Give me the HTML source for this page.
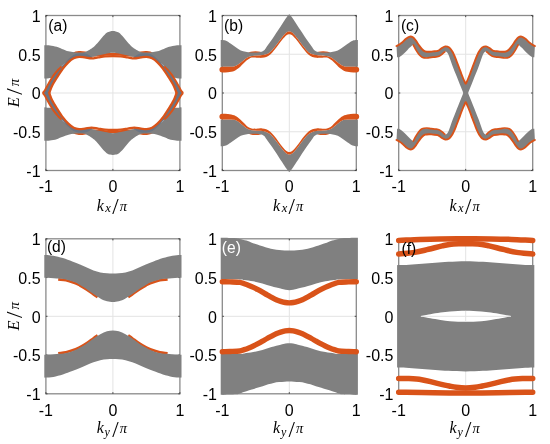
<!DOCTYPE html>
<html><head><meta charset="utf-8"><style>
html,body{margin:0;padding:0;background:#fff;}
svg{display:block;}
.tk{font-family:"Liberation Sans",Arial,sans-serif;font-size:16px;fill:#000;}
.pl{font-family:"Liberation Sans",Arial,sans-serif;font-size:15.6px;}
.mi{font-family:"Liberation Serif","Times New Roman",serif;font-style:italic;fill:#000;}
.mr{font-family:"Liberation Serif","Times New Roman",serif;fill:#000;}
</style></head><body>
<svg width="550" height="444" viewBox="0 0 550 444">
<rect width="550" height="444" fill="#fff"/>
<path d="M112.9 15.5 V170.5 M45.9 54.25 H179.9 M45.9 93 H179.9 M45.9 131.75 H179.9" stroke="#e3e3e3" stroke-width="1" fill="none"/>
<rect x="45.9" y="15.5" width="134" height="155" fill="none" stroke="#8a8a8a" stroke-width="1.3"/>
<path d="M45.9 15.5 h1.6 M179.9 15.5 h-1.6 M45.9 54.25 h1.6 M179.9 54.25 h-1.6 M45.9 93 h1.6 M179.9 93 h-1.6 M45.9 131.75 h1.6 M179.9 131.75 h-1.6 M45.9 170.5 h1.6 M179.9 170.5 h-1.6 M45.9 170.5 v-1.6 M45.9 15.5 v1.6 M112.9 170.5 v-1.6 M112.9 15.5 v1.6 M179.9 170.5 v-1.6 M179.9 15.5 v1.6" stroke="#444" stroke-width="1" fill="none"/>
<path d="M289.3 15.5 V170.5 M222.3 54.25 H356.3 M222.3 93 H356.3 M222.3 131.75 H356.3" stroke="#e3e3e3" stroke-width="1" fill="none"/>
<rect x="222.3" y="15.5" width="134" height="155" fill="none" stroke="#8a8a8a" stroke-width="1.3"/>
<path d="M222.3 15.5 h1.6 M356.3 15.5 h-1.6 M222.3 54.25 h1.6 M356.3 54.25 h-1.6 M222.3 93 h1.6 M356.3 93 h-1.6 M222.3 131.75 h1.6 M356.3 131.75 h-1.6 M222.3 170.5 h1.6 M356.3 170.5 h-1.6 M222.3 170.5 v-1.6 M222.3 15.5 v1.6 M289.3 170.5 v-1.6 M289.3 15.5 v1.6 M356.3 170.5 v-1.6 M356.3 15.5 v1.6" stroke="#444" stroke-width="1" fill="none"/>
<path d="M465.7 15.5 V170.5 M398.7 54.25 H532.7 M398.7 93 H532.7 M398.7 131.75 H532.7" stroke="#e3e3e3" stroke-width="1" fill="none"/>
<rect x="398.7" y="15.5" width="134" height="155" fill="none" stroke="#8a8a8a" stroke-width="1.3"/>
<path d="M398.7 15.5 h1.6 M532.7 15.5 h-1.6 M398.7 54.25 h1.6 M532.7 54.25 h-1.6 M398.7 93 h1.6 M532.7 93 h-1.6 M398.7 131.75 h1.6 M532.7 131.75 h-1.6 M398.7 170.5 h1.6 M532.7 170.5 h-1.6 M398.7 170.5 v-1.6 M398.7 15.5 v1.6 M465.7 170.5 v-1.6 M465.7 15.5 v1.6 M532.7 170.5 v-1.6 M532.7 15.5 v1.6" stroke="#444" stroke-width="1" fill="none"/>
<path d="M112.9 238.8 V393.8 M45.9 277.55 H179.9 M45.9 316.3 H179.9 M45.9 355.05 H179.9" stroke="#e3e3e3" stroke-width="1" fill="none"/>
<rect x="45.9" y="238.8" width="134" height="155" fill="none" stroke="#8a8a8a" stroke-width="1.3"/>
<path d="M45.9 238.8 h1.6 M179.9 238.8 h-1.6 M45.9 277.55 h1.6 M179.9 277.55 h-1.6 M45.9 316.3 h1.6 M179.9 316.3 h-1.6 M45.9 355.05 h1.6 M179.9 355.05 h-1.6 M45.9 393.8 h1.6 M179.9 393.8 h-1.6 M45.9 393.8 v-1.6 M45.9 238.8 v1.6 M112.9 393.8 v-1.6 M112.9 238.8 v1.6 M179.9 393.8 v-1.6 M179.9 238.8 v1.6" stroke="#444" stroke-width="1" fill="none"/>
<path d="M289.3 238.8 V393.8 M222.3 277.55 H356.3 M222.3 316.3 H356.3 M222.3 355.05 H356.3" stroke="#e3e3e3" stroke-width="1" fill="none"/>
<rect x="222.3" y="238.8" width="134" height="155" fill="none" stroke="#8a8a8a" stroke-width="1.3"/>
<path d="M222.3 238.8 h1.6 M356.3 238.8 h-1.6 M222.3 277.55 h1.6 M356.3 277.55 h-1.6 M222.3 316.3 h1.6 M356.3 316.3 h-1.6 M222.3 355.05 h1.6 M356.3 355.05 h-1.6 M222.3 393.8 h1.6 M356.3 393.8 h-1.6 M222.3 393.8 v-1.6 M222.3 238.8 v1.6 M289.3 393.8 v-1.6 M289.3 238.8 v1.6 M356.3 393.8 v-1.6 M356.3 238.8 v1.6" stroke="#444" stroke-width="1" fill="none"/>
<path d="M465.7 238.8 V393.8 M398.7 277.55 H532.7 M398.7 316.3 H532.7 M398.7 355.05 H532.7" stroke="#e3e3e3" stroke-width="1" fill="none"/>
<rect x="398.7" y="238.8" width="134" height="155" fill="none" stroke="#8a8a8a" stroke-width="1.3"/>
<path d="M398.7 238.8 h1.6 M532.7 238.8 h-1.6 M398.7 277.55 h1.6 M532.7 277.55 h-1.6 M398.7 316.3 h1.6 M532.7 316.3 h-1.6 M398.7 355.05 h1.6 M532.7 355.05 h-1.6 M398.7 393.8 h1.6 M532.7 393.8 h-1.6 M398.7 393.8 v-1.6 M398.7 238.8 v1.6 M465.7 393.8 v-1.6 M465.7 238.8 v1.6 M532.7 393.8 v-1.6 M532.7 238.8 v1.6" stroke="#444" stroke-width="1" fill="none"/>
<path d="M68.5 58.6 C70.17 57 71.75 54.85 73.5 53.8 C75.25 52.75 77.08 52.47 79 52.3 C80.92 52.13 82.83 52.35 85 52.8 C87.17 53.25 89.5 54.63 92 55 C94.5 55.37 97.67 55.12 100 55 C102.33 54.88 103.85 54.47 106 54.3 C108.15 54.13 110.6 54 112.9 54 C115.2 54 117.65 54.13 119.8 54.3 C121.95 54.47 123.47 54.88 125.8 55 C128.13 55.12 131.3 55.37 133.8 55 C136.3 54.63 138.63 53.25 140.8 52.8 C142.97 52.35 144.88 52.13 146.8 52.3 C148.72 52.47 150.55 52.75 152.3 53.8 C154.05 54.85 155.63 57 157.3 58.6" fill="none" stroke="#D95319" stroke-width="2.6" stroke-linecap="round" stroke-linejoin="round"/>
<path d="M44.3 45.3 C44.83 45.3 44.95 45.27 45.9 45.3 C46.85 45.33 48.2 45.25 50 45.5 C51.8 45.75 54.7 46.23 56.7 46.8 C58.7 47.37 60.03 48.15 62 48.9 C63.97 49.65 66.5 50.75 68.5 51.3 C70.5 51.85 72.25 51.98 74 52.2 C75.75 52.42 77.28 52.58 79 52.6 C80.72 52.62 82.77 52.65 84.3 52.3 C85.83 51.95 87.08 51.08 88.2 50.5 C89.32 49.92 90 49.48 91 48.8 C92 48.12 92.97 47.53 94.2 46.4 C95.43 45.27 97.02 43.57 98.4 42 C99.78 40.43 101.12 38.53 102.5 37 C103.88 35.47 105.45 33.73 106.7 32.8 C107.95 31.87 108.97 31.7 110 31.4 C111.03 31.1 111.93 31 112.9 31 C113.87 31 114.77 31.1 115.8 31.4 C116.83 31.7 117.85 31.87 119.1 32.8 C120.35 33.73 121.92 35.47 123.3 37 C124.68 38.53 126.02 40.43 127.4 42 C128.78 43.57 130.37 45.27 131.6 46.4 C132.83 47.53 133.8 48.12 134.8 48.8 C135.8 49.48 136.48 49.92 137.6 50.5 C138.72 51.08 139.97 51.95 141.5 52.3 C143.03 52.65 145.08 52.62 146.8 52.6 C148.52 52.58 150.05 52.42 151.8 52.2 C153.55 51.98 155.3 51.85 157.3 51.3 C159.3 50.75 161.83 49.65 163.8 48.9 C165.77 48.15 167.1 47.37 169.1 46.8 C171.1 46.23 174 45.75 175.8 45.5 C177.6 45.25 178.95 45.33 179.9 45.3 C180.85 45.27 180.97 45.3 181.5 45.3 L181.5 78.6 C180.97 78.6 180.68 78.67 179.9 78.6 C179.12 78.53 177.85 78.37 176.8 78.2 C175.75 78.03 174.42 78.15 173.6 77.6 C172.78 77.05 172.93 76.25 171.9 74.9 C170.87 73.55 169.05 71.3 167.4 69.5 C165.75 67.7 163.65 65.48 162 64.1 C160.35 62.72 159.15 62.35 157.5 61.2 C155.85 60.05 153.9 58.1 152.1 57.2 C150.3 56.3 148.57 55.97 146.7 55.8 C144.83 55.63 142.97 56 140.9 56.2 C138.83 56.4 136.48 57.13 134.3 57 C132.12 56.87 130.05 55.92 127.8 55.4 C125.55 54.88 123.28 54.33 120.8 53.9 C118.32 53.47 115.53 52.8 112.9 52.8 C110.27 52.8 107.48 53.47 105 53.9 C102.52 54.33 100.25 54.88 98 55.4 C95.75 55.92 93.68 56.87 91.5 57 C89.32 57.13 86.97 56.4 84.9 56.2 C82.83 56 80.97 55.63 79.1 55.8 C77.23 55.97 75.5 56.3 73.7 57.2 C71.9 58.1 69.95 60.05 68.3 61.2 C66.65 62.35 65.45 62.72 63.8 64.1 C62.15 65.48 60.05 67.7 58.4 69.5 C56.75 71.3 54.93 73.55 53.9 74.9 C52.87 76.25 53.02 77.05 52.2 77.6 C51.38 78.15 50.05 78.03 49 78.2 C47.95 78.37 46.68 78.53 45.9 78.6 C45.12 78.67 44.83 78.6 44.3 78.6 Z" fill="#808080"/>
<path d="M42.7 93 C43.43 92.07 43.78 92.02 44.9 90.2 C46.02 88.38 47.9 84.65 49.4 82.1 C50.9 79.55 52.4 77 53.9 74.9 C55.4 72.8 56.75 71.3 58.4 69.5 C60.05 67.7 62.12 65.87 63.8 64.1 C65.48 62.33 66.88 60.42 68.5 58.9 C70.12 57.38 71.75 55.93 73.5 55 C75.25 54.07 77.08 53.55 79 53.3 C80.92 53.05 83.33 53.22 85 53.5 C86.67 53.78 87.75 54.32 89 55 C90.25 55.68 91.33 56.73 92.5 57.6 L92.5 58.3 C89.97 58 87.13 57.63 84.9 57.4 C82.67 57.17 80.97 56.75 79.1 56.9 C77.23 57.05 75.5 57.4 73.7 58.3 C71.9 59.2 70.1 60.58 68.3 62.3 C66.5 64.02 64.7 66.2 62.9 68.6 C61.1 71 59.3 73.85 57.5 76.7 C55.7 79.55 53.48 82.98 52.1 85.7 C50.72 88.42 50.17 90.57 49.2 93 Z" fill="#6a7584"/>
<path d="M183.1 93 C182.37 92.07 182.02 92.02 180.9 90.2 C179.78 88.38 177.9 84.65 176.4 82.1 C174.9 79.55 173.4 77 171.9 74.9 C170.4 72.8 169.05 71.3 167.4 69.5 C165.75 67.7 163.68 65.87 162 64.1 C160.32 62.33 158.92 60.42 157.3 58.9 C155.68 57.38 154.05 55.93 152.3 55 C150.55 54.07 148.72 53.55 146.8 53.3 C144.88 53.05 142.47 53.22 140.8 53.5 C139.13 53.78 138.05 54.32 136.8 55 C135.55 55.68 134.47 56.73 133.3 57.6 L133.3 58.3 C135.83 58 138.67 57.63 140.9 57.4 C143.13 57.17 144.83 56.75 146.7 56.9 C148.57 57.05 150.3 57.4 152.1 58.3 C153.9 59.2 155.7 60.58 157.5 62.3 C159.3 64.02 161.1 66.2 162.9 68.6 C164.7 71 166.5 73.85 168.3 76.7 C170.1 79.55 172.32 82.98 173.7 85.7 C175.08 88.42 175.63 90.57 176.6 93 Z" fill="#6a7584"/>
<path d="M42.7 93 C43.43 92.07 43.78 92.02 44.9 90.2 C46.02 88.38 47.9 84.65 49.4 82.1 C50.9 79.55 52.4 77 53.9 74.9 C55.4 72.8 57.13 70.92 58.4 69.5 C59.67 68.08 60.47 67.43 61.5 66.4" fill="none" stroke="#D95319" stroke-width="1.9" stroke-linecap="butt" stroke-linejoin="round"/>
<path d="M183.1 93 C182.37 92.07 182.02 92.02 180.9 90.2 C179.78 88.38 177.9 84.65 176.4 82.1 C174.9 79.55 173.4 77 171.9 74.9 C170.4 72.8 168.67 70.92 167.4 69.5 C166.13 68.08 165.33 67.43 164.3 66.4" fill="none" stroke="#D95319" stroke-width="1.9" stroke-linecap="butt" stroke-linejoin="round"/>
<path d="M49.2 93 C50.17 90.57 50.72 88.42 52.1 85.7 C53.48 82.98 55.7 79.55 57.5 76.7 C59.3 73.85 61.1 71 62.9 68.6 C64.7 66.2 66.5 64.02 68.3 62.3 C70.1 60.58 71.9 59.2 73.7 58.3 C75.5 57.4 77.23 57.05 79.1 56.9 C80.97 56.75 82.83 57.17 84.9 57.4 C86.97 57.63 89.32 58.3 91.5 58.3 C93.68 58.3 95.75 57.72 98 57.4 C100.25 57.08 102.52 56.62 105 56.4 C107.48 56.18 110.27 56.1 112.9 56.1 C115.53 56.1 118.32 56.18 120.8 56.4 C123.28 56.62 125.55 57.08 127.8 57.4 C130.05 57.72 132.12 58.3 134.3 58.3 C136.48 58.3 138.83 57.63 140.9 57.4 C142.97 57.17 144.83 56.75 146.7 56.9 C148.57 57.05 150.3 57.4 152.1 58.3 C153.9 59.2 155.7 60.58 157.5 62.3 C159.3 64.02 161.1 66.2 162.9 68.6 C164.7 71 166.5 73.85 168.3 76.7 C170.1 79.55 172.32 82.98 173.7 85.7 C175.08 88.42 175.63 90.57 176.6 93" fill="none" stroke="#D95319" stroke-width="2.3" stroke-linecap="round" stroke-linejoin="round"/>
<path d="M68.5 127.4 C70.17 129 71.75 131.15 73.5 132.2 C75.25 133.25 77.08 133.53 79 133.7 C80.92 133.87 82.83 133.65 85 133.2 C87.17 132.75 89.5 131.37 92 131 C94.5 130.63 97.67 130.88 100 131 C102.33 131.12 103.85 131.53 106 131.7 C108.15 131.87 110.6 132 112.9 132 C115.2 132 117.65 131.87 119.8 131.7 C121.95 131.53 123.47 131.12 125.8 131 C128.13 130.88 131.3 130.63 133.8 131 C136.3 131.37 138.63 132.75 140.8 133.2 C142.97 133.65 144.88 133.87 146.8 133.7 C148.72 133.53 150.55 133.25 152.3 132.2 C154.05 131.15 155.63 129 157.3 127.4" fill="none" stroke="#D95319" stroke-width="2.6" stroke-linecap="round" stroke-linejoin="round"/>
<path d="M44.3 140.7 C44.83 140.7 44.95 140.73 45.9 140.7 C46.85 140.67 48.2 140.75 50 140.5 C51.8 140.25 54.7 139.77 56.7 139.2 C58.7 138.63 60.03 137.85 62 137.1 C63.97 136.35 66.5 135.25 68.5 134.7 C70.5 134.15 72.25 134.02 74 133.8 C75.75 133.58 77.28 133.42 79 133.4 C80.72 133.38 82.77 133.35 84.3 133.7 C85.83 134.05 87.08 134.92 88.2 135.5 C89.32 136.08 90 136.52 91 137.2 C92 137.88 92.97 138.47 94.2 139.6 C95.43 140.73 97.02 142.43 98.4 144 C99.78 145.57 101.12 147.47 102.5 149 C103.88 150.53 105.45 152.27 106.7 153.2 C107.95 154.13 108.97 154.3 110 154.6 C111.03 154.9 111.93 155 112.9 155 C113.87 155 114.77 154.9 115.8 154.6 C116.83 154.3 117.85 154.13 119.1 153.2 C120.35 152.27 121.92 150.53 123.3 149 C124.68 147.47 126.02 145.57 127.4 144 C128.78 142.43 130.37 140.73 131.6 139.6 C132.83 138.47 133.8 137.88 134.8 137.2 C135.8 136.52 136.48 136.08 137.6 135.5 C138.72 134.92 139.97 134.05 141.5 133.7 C143.03 133.35 145.08 133.38 146.8 133.4 C148.52 133.42 150.05 133.58 151.8 133.8 C153.55 134.02 155.3 134.15 157.3 134.7 C159.3 135.25 161.83 136.35 163.8 137.1 C165.77 137.85 167.1 138.63 169.1 139.2 C171.1 139.77 174 140.25 175.8 140.5 C177.6 140.75 178.95 140.67 179.9 140.7 C180.85 140.73 180.97 140.7 181.5 140.7 L181.5 107.4 C180.97 107.4 180.68 107.33 179.9 107.4 C179.12 107.47 177.85 107.63 176.8 107.8 C175.75 107.97 174.42 107.85 173.6 108.4 C172.78 108.95 172.93 109.75 171.9 111.1 C170.87 112.45 169.05 114.7 167.4 116.5 C165.75 118.3 163.65 120.52 162 121.9 C160.35 123.28 159.15 123.65 157.5 124.8 C155.85 125.95 153.9 127.9 152.1 128.8 C150.3 129.7 148.57 130.03 146.7 130.2 C144.83 130.37 142.97 130 140.9 129.8 C138.83 129.6 136.48 128.87 134.3 129 C132.12 129.13 130.05 130.08 127.8 130.6 C125.55 131.12 123.28 131.67 120.8 132.1 C118.32 132.53 115.53 133.2 112.9 133.2 C110.27 133.2 107.48 132.53 105 132.1 C102.52 131.67 100.25 131.12 98 130.6 C95.75 130.08 93.68 129.13 91.5 129 C89.32 128.87 86.97 129.6 84.9 129.8 C82.83 130 80.97 130.37 79.1 130.2 C77.23 130.03 75.5 129.7 73.7 128.8 C71.9 127.9 69.95 125.95 68.3 124.8 C66.65 123.65 65.45 123.28 63.8 121.9 C62.15 120.52 60.05 118.3 58.4 116.5 C56.75 114.7 54.93 112.45 53.9 111.1 C52.87 109.75 53.02 108.95 52.2 108.4 C51.38 107.85 50.05 107.97 49 107.8 C47.95 107.63 46.68 107.47 45.9 107.4 C45.12 107.33 44.83 107.4 44.3 107.4 Z" fill="#808080"/>
<path d="M42.7 93 C43.43 93.93 43.78 93.98 44.9 95.8 C46.02 97.62 47.9 101.35 49.4 103.9 C50.9 106.45 52.4 109 53.9 111.1 C55.4 113.2 56.75 114.7 58.4 116.5 C60.05 118.3 62.12 120.13 63.8 121.9 C65.48 123.67 66.88 125.58 68.5 127.1 C70.12 128.62 71.75 130.07 73.5 131 C75.25 131.93 77.08 132.45 79 132.7 C80.92 132.95 83.33 132.78 85 132.5 C86.67 132.22 87.75 131.68 89 131 C90.25 130.32 91.33 129.27 92.5 128.4 L92.5 127.7 C89.97 128 87.13 128.37 84.9 128.6 C82.67 128.83 80.97 129.25 79.1 129.1 C77.23 128.95 75.5 128.6 73.7 127.7 C71.9 126.8 70.1 125.42 68.3 123.7 C66.5 121.98 64.7 119.8 62.9 117.4 C61.1 115 59.3 112.15 57.5 109.3 C55.7 106.45 53.48 103.02 52.1 100.3 C50.72 97.58 50.17 95.43 49.2 93 Z" fill="#6a7584"/>
<path d="M183.1 93 C182.37 93.93 182.02 93.98 180.9 95.8 C179.78 97.62 177.9 101.35 176.4 103.9 C174.9 106.45 173.4 109 171.9 111.1 C170.4 113.2 169.05 114.7 167.4 116.5 C165.75 118.3 163.68 120.13 162 121.9 C160.32 123.67 158.92 125.58 157.3 127.1 C155.68 128.62 154.05 130.07 152.3 131 C150.55 131.93 148.72 132.45 146.8 132.7 C144.88 132.95 142.47 132.78 140.8 132.5 C139.13 132.22 138.05 131.68 136.8 131 C135.55 130.32 134.47 129.27 133.3 128.4 L133.3 127.7 C135.83 128 138.67 128.37 140.9 128.6 C143.13 128.83 144.83 129.25 146.7 129.1 C148.57 128.95 150.3 128.6 152.1 127.7 C153.9 126.8 155.7 125.42 157.5 123.7 C159.3 121.98 161.1 119.8 162.9 117.4 C164.7 115 166.5 112.15 168.3 109.3 C170.1 106.45 172.32 103.02 173.7 100.3 C175.08 97.58 175.63 95.43 176.6 93 Z" fill="#6a7584"/>
<path d="M42.7 93 C43.43 93.93 43.78 93.98 44.9 95.8 C46.02 97.62 47.9 101.35 49.4 103.9 C50.9 106.45 52.4 109 53.9 111.1 C55.4 113.2 57.13 115.08 58.4 116.5 C59.67 117.92 60.47 118.57 61.5 119.6" fill="none" stroke="#D95319" stroke-width="1.9" stroke-linecap="butt" stroke-linejoin="round"/>
<path d="M183.1 93 C182.37 93.93 182.02 93.98 180.9 95.8 C179.78 97.62 177.9 101.35 176.4 103.9 C174.9 106.45 173.4 109 171.9 111.1 C170.4 113.2 168.67 115.08 167.4 116.5 C166.13 117.92 165.33 118.57 164.3 119.6" fill="none" stroke="#D95319" stroke-width="1.9" stroke-linecap="butt" stroke-linejoin="round"/>
<path d="M49.2 93 C50.17 95.43 50.72 97.58 52.1 100.3 C53.48 103.02 55.7 106.45 57.5 109.3 C59.3 112.15 61.1 115 62.9 117.4 C64.7 119.8 66.5 121.98 68.3 123.7 C70.1 125.42 71.9 126.8 73.7 127.7 C75.5 128.6 77.23 128.95 79.1 129.1 C80.97 129.25 82.83 128.83 84.9 128.6 C86.97 128.37 89.32 127.7 91.5 127.7 C93.68 127.7 95.75 128.28 98 128.6 C100.25 128.92 102.52 129.38 105 129.6 C107.48 129.82 110.27 129.9 112.9 129.9 C115.53 129.9 118.32 129.82 120.8 129.6 C123.28 129.38 125.55 128.92 127.8 128.6 C130.05 128.28 132.12 127.7 134.3 127.7 C136.48 127.7 138.83 128.37 140.9 128.6 C142.97 128.83 144.83 129.25 146.7 129.1 C148.57 128.95 150.3 128.6 152.1 127.7 C153.9 126.8 155.7 125.42 157.5 123.7 C159.3 121.98 161.1 119.8 162.9 117.4 C164.7 115 166.5 112.15 168.3 109.3 C170.1 106.45 172.32 103.02 173.7 100.3 C175.08 97.58 175.63 95.43 176.6 93" fill="none" stroke="#D95319" stroke-width="2.3" stroke-linecap="round" stroke-linejoin="round"/>
<path d="M247 55 C248.33 54.33 249.58 53.42 251 53 C252.42 52.58 254 52.5 255.5 52.5 C257 52.5 258.75 52.58 260 53 C261.25 53.42 262 54.33 263 55" fill="none" stroke="#D95319" stroke-width="2.6" stroke-linecap="round" stroke-linejoin="round"/>
<path d="M331.6 55 C330.27 54.33 329.02 53.42 327.6 53 C326.18 52.58 324.6 52.5 323.1 52.5 C321.6 52.5 319.85 52.58 318.6 53 C317.35 53.42 316.6 54.33 315.6 55" fill="none" stroke="#D95319" stroke-width="2.6" stroke-linecap="round" stroke-linejoin="round"/>
<path d="M220.7 40 C221.23 40 221.42 39.88 222.3 40 C223.18 40.12 224.57 40.08 226 40.7 C227.43 41.32 229.27 42.6 230.9 43.7 C232.53 44.8 234.15 46.18 235.8 47.3 C237.45 48.42 239.15 49.65 240.8 50.4 C242.45 51.15 244.05 51.47 245.7 51.8 C247.35 52.13 249.15 52.28 250.7 52.4 C252.25 52.52 253.67 52.52 255 52.5 C256.33 52.48 257.5 52.47 258.7 52.3 C259.9 52.13 261.23 51.88 262.2 51.5 C263.17 51.12 263.83 50.68 264.5 50 C265.17 49.32 265.23 48.78 266.2 47.4 C267.17 46.02 268.95 43.62 270.3 41.7 C271.65 39.78 272.95 37.9 274.3 35.9 C275.65 33.9 277.08 31.7 278.4 29.7 C279.72 27.7 280.85 25.95 282.2 23.9 C283.55 21.85 285.45 18.88 286.5 17.4 C287.55 15.92 288.03 15.53 288.5 15 C288.97 14.47 289.03 14.2 289.3 14.2 C289.57 14.2 289.63 14.47 290.1 15 C290.57 15.53 291.05 15.92 292.1 17.4 C293.15 18.88 295.05 21.85 296.4 23.9 C297.75 25.95 298.88 27.7 300.2 29.7 C301.52 31.7 302.95 33.9 304.3 35.9 C305.65 37.9 306.95 39.78 308.3 41.7 C309.65 43.62 311.43 46.02 312.4 47.4 C313.37 48.78 313.43 49.32 314.1 50 C314.77 50.68 315.43 51.12 316.4 51.5 C317.37 51.88 318.7 52.13 319.9 52.3 C321.1 52.47 322.27 52.48 323.6 52.5 C324.93 52.52 326.35 52.52 327.9 52.4 C329.45 52.28 331.25 52.13 332.9 51.8 C334.55 51.47 336.15 51.15 337.8 50.4 C339.45 49.65 341.15 48.42 342.8 47.3 C344.45 46.18 346.07 44.8 347.7 43.7 C349.33 42.6 351.17 41.32 352.6 40.7 C354.03 40.08 355.42 40.12 356.3 40 C357.18 39.88 357.37 40 357.9 40 L357.9 66.7 C357.37 66.7 357.52 66.7 356.3 66.7 C355.08 66.7 352.58 66.75 350.6 66.7 C348.62 66.65 345.95 66.67 344.4 66.4 C342.85 66.13 342.32 65.67 341.3 65.1 C340.28 64.53 339.32 63.77 338.3 63 C337.28 62.23 336.23 61.33 335.2 60.5 C334.17 59.67 333.13 58.67 332.1 58 C331.07 57.33 330.03 56.85 329 56.5 C327.97 56.15 327.45 56.08 325.9 55.9 C324.35 55.72 321.28 55.52 319.7 55.4 C318.12 55.28 317.62 55.38 316.4 55.2 C315.18 55.02 313.75 54.85 312.4 54.3 C311.05 53.75 309.65 53.03 308.3 51.9 C306.95 50.77 305.65 49.12 304.3 47.5 C302.95 45.88 301.55 43.97 300.2 42.2 C298.85 40.43 297.55 38.5 296.2 36.9 C294.85 35.3 293.25 33.48 292.1 32.6 C290.95 31.72 290.23 31.6 289.3 31.6 C288.37 31.6 287.65 31.72 286.5 32.6 C285.35 33.48 283.75 35.3 282.4 36.9 C281.05 38.5 279.75 40.43 278.4 42.2 C277.05 43.97 275.65 45.88 274.3 47.5 C272.95 49.12 271.65 50.77 270.3 51.9 C268.95 53.03 267.55 53.75 266.2 54.3 C264.85 54.85 263.42 55.02 262.2 55.2 C260.98 55.38 260.48 55.28 258.9 55.4 C257.32 55.52 254.25 55.72 252.7 55.9 C251.15 56.08 250.63 56.15 249.6 56.5 C248.57 56.85 247.53 57.33 246.5 58 C245.47 58.67 244.43 59.67 243.4 60.5 C242.37 61.33 241.32 62.23 240.3 63 C239.28 63.77 238.32 64.53 237.3 65.1 C236.28 65.67 235.75 66.13 234.2 66.4 C232.65 66.67 229.98 66.65 228 66.7 C226.02 66.75 223.52 66.7 222.3 66.7 C221.08 66.7 221.23 66.7 220.7 66.7 Z" fill="#808080"/>
<path d="M222.3 66.7 C224.2 66.7 226.02 66.75 228 66.7 C229.98 66.65 232.65 66.67 234.2 66.4 C235.75 66.13 236.28 65.67 237.3 65.1 C238.32 64.53 239.28 63.77 240.3 63 C241.32 62.23 242.37 61.33 243.4 60.5 C244.43 59.67 245.47 58.67 246.5 58 C247.53 57.33 248.57 56.85 249.6 56.5 C250.63 56.15 251.15 56.08 252.7 55.9 C254.25 55.72 257.32 55.52 258.9 55.4 C260.48 55.28 260.98 55.38 262.2 55.2 C263.42 55.02 264.85 54.85 266.2 54.3 C267.55 53.75 268.95 53.03 270.3 51.9 C271.65 50.77 272.95 49.12 274.3 47.5 C275.65 45.88 277.05 43.97 278.4 42.2 C279.75 40.43 281.05 38.5 282.4 36.9 C283.75 35.3 285.35 33.48 286.5 32.6 C287.65 31.72 288.37 31.6 289.3 31.6 C290.23 31.6 290.95 31.72 292.1 32.6 C293.25 33.48 294.85 35.3 296.2 36.9 C297.55 38.5 298.85 40.43 300.2 42.2 C301.55 43.97 302.95 45.88 304.3 47.5 C305.65 49.12 306.95 50.77 308.3 51.9 C309.65 53.03 311.05 53.75 312.4 54.3 C313.75 54.85 315.18 55.02 316.4 55.2 C317.62 55.38 318.12 55.28 319.7 55.4 C321.28 55.52 324.35 55.72 325.9 55.9 C327.45 56.08 327.97 56.15 329 56.5 C330.03 56.85 331.07 57.33 332.1 58 C333.13 58.67 334.17 59.67 335.2 60.5 C336.23 61.33 337.28 62.23 338.3 63 C339.32 63.77 340.28 64.53 341.3 65.1 C342.32 65.67 342.85 66.13 344.4 66.4 C345.95 66.67 348.62 66.65 350.6 66.7 C352.58 66.75 354.4 66.7 356.3 66.7 A2.9 2.9 0 0 1 356.3 72.5 C354.4 72.43 352.58 72.55 350.6 72.3 C348.62 72.05 345.95 71.53 344.4 71 C342.85 70.47 342.32 69.82 341.3 69.1 C340.28 68.38 339.32 67.62 338.3 66.7 C337.28 65.78 336.23 64.63 335.2 63.6 C334.17 62.57 333.13 61.37 332.1 60.5 C331.07 59.63 330.03 58.9 329 58.4 C327.97 57.9 327.45 57.6 325.9 57.5 C324.35 57.4 321.28 57.75 319.7 57.8 C318.12 57.85 317.62 57.95 316.4 57.8 C315.18 57.65 313.75 57.45 312.4 56.9 C311.05 56.35 309.65 55.63 308.3 54.5 C306.95 53.37 305.65 51.72 304.3 50.1 C302.95 48.48 301.55 46.57 300.2 44.8 C298.85 43.03 297.55 41.1 296.2 39.5 C294.85 37.9 293.25 36.08 292.1 35.2 C290.95 34.32 290.23 34.2 289.3 34.2 C288.37 34.2 287.65 34.32 286.5 35.2 C285.35 36.08 283.75 37.9 282.4 39.5 C281.05 41.1 279.75 43.03 278.4 44.8 C277.05 46.57 275.65 48.48 274.3 50.1 C272.95 51.72 271.65 53.37 270.3 54.5 C268.95 55.63 267.55 56.35 266.2 56.9 C264.85 57.45 263.42 57.65 262.2 57.8 C260.98 57.95 260.48 57.85 258.9 57.8 C257.32 57.75 254.25 57.4 252.7 57.5 C251.15 57.6 250.63 57.9 249.6 58.4 C248.57 58.9 247.53 59.63 246.5 60.5 C245.47 61.37 244.43 62.57 243.4 63.6 C242.37 64.63 241.32 65.78 240.3 66.7 C239.28 67.62 238.32 68.38 237.3 69.1 C236.28 69.82 235.75 70.47 234.2 71 C232.65 71.53 229.98 72.05 228 72.3 C226.02 72.55 224.2 72.43 222.3 72.5 A2.9 2.9 0 0 1 222.3 66.7 Z" fill="#D95319"/>
<path d="M247 131.2 C248.33 131.87 249.58 132.78 251 133.2 C252.42 133.62 254 133.7 255.5 133.7 C257 133.7 258.75 133.62 260 133.2 C261.25 132.78 262 131.87 263 131.2" fill="none" stroke="#D95319" stroke-width="2.6" stroke-linecap="round" stroke-linejoin="round"/>
<path d="M331.6 131.2 C330.27 131.87 329.02 132.78 327.6 133.2 C326.18 133.62 324.6 133.7 323.1 133.7 C321.6 133.7 319.85 133.62 318.6 133.2 C317.35 132.78 316.6 131.87 315.6 131.2" fill="none" stroke="#D95319" stroke-width="2.6" stroke-linecap="round" stroke-linejoin="round"/>
<path d="M220.7 146.2 C221.23 146.2 221.42 146.32 222.3 146.2 C223.18 146.08 224.57 146.12 226 145.5 C227.43 144.88 229.27 143.6 230.9 142.5 C232.53 141.4 234.15 140.02 235.8 138.9 C237.45 137.78 239.15 136.55 240.8 135.8 C242.45 135.05 244.05 134.73 245.7 134.4 C247.35 134.07 249.15 133.92 250.7 133.8 C252.25 133.68 253.67 133.68 255 133.7 C256.33 133.72 257.5 133.73 258.7 133.9 C259.9 134.07 261.23 134.32 262.2 134.7 C263.17 135.08 263.83 135.52 264.5 136.2 C265.17 136.88 265.23 137.42 266.2 138.8 C267.17 140.18 268.95 142.58 270.3 144.5 C271.65 146.42 272.95 148.3 274.3 150.3 C275.65 152.3 277.08 154.5 278.4 156.5 C279.72 158.5 280.85 160.25 282.2 162.3 C283.55 164.35 285.45 167.32 286.5 168.8 C287.55 170.28 288.03 170.67 288.5 171.2 C288.97 171.73 289.03 172 289.3 172 C289.57 172 289.63 171.73 290.1 171.2 C290.57 170.67 291.05 170.28 292.1 168.8 C293.15 167.32 295.05 164.35 296.4 162.3 C297.75 160.25 298.88 158.5 300.2 156.5 C301.52 154.5 302.95 152.3 304.3 150.3 C305.65 148.3 306.95 146.42 308.3 144.5 C309.65 142.58 311.43 140.18 312.4 138.8 C313.37 137.42 313.43 136.88 314.1 136.2 C314.77 135.52 315.43 135.08 316.4 134.7 C317.37 134.32 318.7 134.07 319.9 133.9 C321.1 133.73 322.27 133.72 323.6 133.7 C324.93 133.68 326.35 133.68 327.9 133.8 C329.45 133.92 331.25 134.07 332.9 134.4 C334.55 134.73 336.15 135.05 337.8 135.8 C339.45 136.55 341.15 137.78 342.8 138.9 C344.45 140.02 346.07 141.4 347.7 142.5 C349.33 143.6 351.17 144.88 352.6 145.5 C354.03 146.12 355.42 146.08 356.3 146.2 C357.18 146.32 357.37 146.2 357.9 146.2 L357.9 119.5 C357.37 119.5 357.52 119.5 356.3 119.5 C355.08 119.5 352.58 119.45 350.6 119.5 C348.62 119.55 345.95 119.53 344.4 119.8 C342.85 120.07 342.32 120.53 341.3 121.1 C340.28 121.67 339.32 122.43 338.3 123.2 C337.28 123.97 336.23 124.87 335.2 125.7 C334.17 126.53 333.13 127.53 332.1 128.2 C331.07 128.87 330.03 129.35 329 129.7 C327.97 130.05 327.45 130.12 325.9 130.3 C324.35 130.48 321.28 130.68 319.7 130.8 C318.12 130.92 317.62 130.82 316.4 131 C315.18 131.18 313.75 131.35 312.4 131.9 C311.05 132.45 309.65 133.17 308.3 134.3 C306.95 135.43 305.65 137.08 304.3 138.7 C302.95 140.32 301.55 142.23 300.2 144 C298.85 145.77 297.55 147.7 296.2 149.3 C294.85 150.9 293.25 152.72 292.1 153.6 C290.95 154.48 290.23 154.6 289.3 154.6 C288.37 154.6 287.65 154.48 286.5 153.6 C285.35 152.72 283.75 150.9 282.4 149.3 C281.05 147.7 279.75 145.77 278.4 144 C277.05 142.23 275.65 140.32 274.3 138.7 C272.95 137.08 271.65 135.43 270.3 134.3 C268.95 133.17 267.55 132.45 266.2 131.9 C264.85 131.35 263.42 131.18 262.2 131 C260.98 130.82 260.48 130.92 258.9 130.8 C257.32 130.68 254.25 130.48 252.7 130.3 C251.15 130.12 250.63 130.05 249.6 129.7 C248.57 129.35 247.53 128.87 246.5 128.2 C245.47 127.53 244.43 126.53 243.4 125.7 C242.37 124.87 241.32 123.97 240.3 123.2 C239.28 122.43 238.32 121.67 237.3 121.1 C236.28 120.53 235.75 120.07 234.2 119.8 C232.65 119.53 229.98 119.55 228 119.5 C226.02 119.45 223.52 119.5 222.3 119.5 C221.08 119.5 221.23 119.5 220.7 119.5 Z" fill="#808080"/>
<path d="M222.3 119.5 C224.2 119.5 226.02 119.45 228 119.5 C229.98 119.55 232.65 119.53 234.2 119.8 C235.75 120.07 236.28 120.53 237.3 121.1 C238.32 121.67 239.28 122.43 240.3 123.2 C241.32 123.97 242.37 124.87 243.4 125.7 C244.43 126.53 245.47 127.53 246.5 128.2 C247.53 128.87 248.57 129.35 249.6 129.7 C250.63 130.05 251.15 130.12 252.7 130.3 C254.25 130.48 257.32 130.68 258.9 130.8 C260.48 130.92 260.98 130.82 262.2 131 C263.42 131.18 264.85 131.35 266.2 131.9 C267.55 132.45 268.95 133.17 270.3 134.3 C271.65 135.43 272.95 137.08 274.3 138.7 C275.65 140.32 277.05 142.23 278.4 144 C279.75 145.77 281.05 147.7 282.4 149.3 C283.75 150.9 285.35 152.72 286.5 153.6 C287.65 154.48 288.37 154.6 289.3 154.6 C290.23 154.6 290.95 154.48 292.1 153.6 C293.25 152.72 294.85 150.9 296.2 149.3 C297.55 147.7 298.85 145.77 300.2 144 C301.55 142.23 302.95 140.32 304.3 138.7 C305.65 137.08 306.95 135.43 308.3 134.3 C309.65 133.17 311.05 132.45 312.4 131.9 C313.75 131.35 315.18 131.18 316.4 131 C317.62 130.82 318.12 130.92 319.7 130.8 C321.28 130.68 324.35 130.48 325.9 130.3 C327.45 130.12 327.97 130.05 329 129.7 C330.03 129.35 331.07 128.87 332.1 128.2 C333.13 127.53 334.17 126.53 335.2 125.7 C336.23 124.87 337.28 123.97 338.3 123.2 C339.32 122.43 340.28 121.67 341.3 121.1 C342.32 120.53 342.85 120.07 344.4 119.8 C345.95 119.53 348.62 119.55 350.6 119.5 C352.58 119.45 354.4 119.5 356.3 119.5 A2.9 2.9 0 0 0 356.3 113.7 C354.4 113.77 352.58 113.65 350.6 113.9 C348.62 114.15 345.95 114.67 344.4 115.2 C342.85 115.73 342.32 116.38 341.3 117.1 C340.28 117.82 339.32 118.58 338.3 119.5 C337.28 120.42 336.23 121.57 335.2 122.6 C334.17 123.63 333.13 124.83 332.1 125.7 C331.07 126.57 330.03 127.3 329 127.8 C327.97 128.3 327.45 128.6 325.9 128.7 C324.35 128.8 321.28 128.45 319.7 128.4 C318.12 128.35 317.62 128.25 316.4 128.4 C315.18 128.55 313.75 128.75 312.4 129.3 C311.05 129.85 309.65 130.57 308.3 131.7 C306.95 132.83 305.65 134.48 304.3 136.1 C302.95 137.72 301.55 139.63 300.2 141.4 C298.85 143.17 297.55 145.1 296.2 146.7 C294.85 148.3 293.25 150.12 292.1 151 C290.95 151.88 290.23 152 289.3 152 C288.37 152 287.65 151.88 286.5 151 C285.35 150.12 283.75 148.3 282.4 146.7 C281.05 145.1 279.75 143.17 278.4 141.4 C277.05 139.63 275.65 137.72 274.3 136.1 C272.95 134.48 271.65 132.83 270.3 131.7 C268.95 130.57 267.55 129.85 266.2 129.3 C264.85 128.75 263.42 128.55 262.2 128.4 C260.98 128.25 260.48 128.35 258.9 128.4 C257.32 128.45 254.25 128.8 252.7 128.7 C251.15 128.6 250.63 128.3 249.6 127.8 C248.57 127.3 247.53 126.57 246.5 125.7 C245.47 124.83 244.43 123.63 243.4 122.6 C242.37 121.57 241.32 120.42 240.3 119.5 C239.28 118.58 238.32 117.82 237.3 117.1 C236.28 116.38 235.75 115.73 234.2 115.2 C232.65 114.67 229.98 114.15 228 113.9 C226.02 113.65 224.2 113.77 222.3 113.7 A2.9 2.9 0 0 0 222.3 119.5 Z" fill="#D95319"/>
<path d="M396.5 46 C397.37 45.53 398.17 45.17 399.1 44.6 C400.03 44.03 400.95 43.57 402.1 42.6 C403.25 41.63 404.72 39.8 406 38.8 C407.28 37.8 408.65 36.85 409.8 36.6 C410.95 36.35 411.88 36.62 412.9 37.3 C413.92 37.98 414.88 39.37 415.9 40.7 C416.92 42.03 417.97 43.88 419 45.3 C420.03 46.72 421.08 48.2 422.1 49.2 C423.12 50.2 423.95 50.87 425.1 51.3 C426.25 51.73 427.68 51.78 429 51.8 C430.32 51.82 431.55 51.55 433 51.4 C434.45 51.25 436.28 51.42 437.7 50.9 C439.12 50.38 440.23 49.05 441.5 48.3 C442.77 47.55 444.02 46.52 445.3 46.4 C446.58 46.28 448.05 46.78 449.2 47.6 C450.35 48.42 451.35 49.98 452.2 51.3 C453.05 52.62 453.58 53.88 454.3 55.5 C455.02 57.12 455.72 59 456.5 61 C457.28 63 458.22 65.42 459 67.5 C459.78 69.58 460.5 71.67 461.2 73.5 C461.9 75.33 462.6 77.05 463.2 78.5 C463.8 79.95 464.38 81.33 464.8 82.2 C465.22 83.07 465.4 83.7 465.7 83.7 C466 83.7 466.18 83.07 466.6 82.2 C467.02 81.33 467.6 79.95 468.2 78.5 C468.8 77.05 469.5 75.33 470.2 73.5 C470.9 71.67 471.62 69.58 472.4 67.5 C473.18 65.42 474.12 63 474.9 61 C475.68 59 476.38 57.12 477.1 55.5 C477.82 53.88 478.35 52.62 479.2 51.3 C480.05 49.98 481.05 48.42 482.2 47.6 C483.35 46.78 484.82 46.28 486.1 46.4 C487.38 46.52 488.63 47.55 489.9 48.3 C491.17 49.05 492.28 50.38 493.7 50.9 C495.12 51.42 496.95 51.25 498.4 51.4 C499.85 51.55 501.08 51.82 502.4 51.8 C503.72 51.78 505.15 51.73 506.3 51.3 C507.45 50.87 508.28 50.2 509.3 49.2 C510.32 48.2 511.37 46.72 512.4 45.3 C513.43 43.88 514.48 42.03 515.5 40.7 C516.52 39.37 517.48 37.98 518.5 37.3 C519.52 36.62 520.45 36.35 521.6 36.6 C522.75 36.85 524.12 37.8 525.4 38.8 C526.68 39.8 528.15 41.63 529.3 42.6 C530.45 43.57 531.37 44.03 532.3 44.6 C533.23 45.17 534.03 45.53 534.9 46 L534.3 57.2 C533.77 57.2 533.28 57.37 532.7 57.2 C532.12 57.03 531.63 56.77 530.8 56.2 C529.97 55.63 528.85 54.85 527.7 53.8 C526.55 52.75 525.17 51.15 523.9 49.9 C522.63 48.65 521.07 47.07 520.1 46.3 C519.13 45.53 518.87 44.75 518.1 45.3 C517.33 45.85 516.45 48.12 515.5 49.6 C514.55 51.08 513.43 52.98 512.4 54.2 C511.37 55.42 510.58 56.32 509.3 56.9 C508.02 57.48 506.22 57.65 504.7 57.7 C503.18 57.75 501.75 57.37 500.2 57.2 C498.65 57.03 496.78 56.93 495.4 56.7 C494.02 56.47 492.98 56.33 491.9 55.8 C490.82 55.27 489.82 54.22 488.9 53.5 C487.98 52.78 487.18 51.67 486.4 51.5 C485.62 51.33 484.87 51.75 484.2 52.5 C483.53 53.25 482.95 54.7 482.4 56 C481.85 57.3 481.55 58.47 480.9 60.3 C480.25 62.13 479.35 64.75 478.5 67 C477.65 69.25 476.7 71.55 475.8 73.8 C474.9 76.05 474 78.25 473.1 80.5 C472.2 82.75 471.25 85.18 470.4 87.3 C469.55 89.42 468.78 91.25 468 93.2 C467.22 95.15 466.47 99 465.7 99 C464.93 99 464.18 95.15 463.4 93.2 C462.62 91.25 461.85 89.42 461 87.3 C460.15 85.18 459.2 82.75 458.3 80.5 C457.4 78.25 456.5 76.05 455.6 73.8 C454.7 71.55 453.75 69.25 452.9 67 C452.05 64.75 451.15 62.13 450.5 60.3 C449.85 58.47 449.55 57.3 449 56 C448.45 54.7 447.87 53.25 447.2 52.5 C446.53 51.75 445.78 51.33 445 51.5 C444.22 51.67 443.42 52.78 442.5 53.5 C441.58 54.22 440.58 55.27 439.5 55.8 C438.42 56.33 437.38 56.47 436 56.7 C434.62 56.93 432.75 57.03 431.2 57.2 C429.65 57.37 428.22 57.75 426.7 57.7 C425.18 57.65 423.38 57.48 422.1 56.9 C420.82 56.32 420.03 55.42 419 54.2 C417.97 52.98 416.85 51.08 415.9 49.6 C414.95 48.12 414.07 45.85 413.3 45.3 C412.53 44.75 412.27 45.53 411.3 46.3 C410.33 47.07 408.77 48.65 407.5 49.9 C406.23 51.15 404.85 52.75 403.7 53.8 C402.55 54.85 401.43 55.63 400.6 56.2 C399.77 56.77 399.28 57.03 398.7 57.2 C398.12 57.37 397.63 57.2 397.1 57.2 Z" fill="#808080"/>
<path d="M396.5 46 C397.37 45.53 398.17 45.17 399.1 44.6 C400.03 44.03 400.95 43.57 402.1 42.6 C403.25 41.63 404.72 39.8 406 38.8 C407.28 37.8 408.65 36.85 409.8 36.6 C410.95 36.35 411.88 36.62 412.9 37.3 C413.92 37.98 414.88 39.37 415.9 40.7 C416.92 42.03 417.97 43.88 419 45.3 C420.03 46.72 421.08 48.2 422.1 49.2 C423.12 50.2 423.95 50.87 425.1 51.3 C426.25 51.73 427.68 51.78 429 51.8 C430.32 51.82 431.55 51.55 433 51.4 C434.45 51.25 436.28 51.42 437.7 50.9 C439.12 50.38 440.23 49.05 441.5 48.3 C442.77 47.55 444.02 46.52 445.3 46.4 C446.58 46.28 448.05 46.78 449.2 47.6 C450.35 48.42 451.35 49.98 452.2 51.3 C453.05 52.62 453.58 53.88 454.3 55.5 C455.02 57.12 455.72 59 456.5 61 C457.28 63 458.22 65.42 459 67.5 C459.78 69.58 460.5 71.67 461.2 73.5 C461.9 75.33 462.6 77.05 463.2 78.5 C463.8 79.95 464.38 81.33 464.8 82.2 C465.22 83.07 465.4 83.7 465.7 83.7 C466 83.7 466.18 83.07 466.6 82.2 C467.02 81.33 467.6 79.95 468.2 78.5 C468.8 77.05 469.5 75.33 470.2 73.5 C470.9 71.67 471.62 69.58 472.4 67.5 C473.18 65.42 474.12 63 474.9 61 C475.68 59 476.38 57.12 477.1 55.5 C477.82 53.88 478.35 52.62 479.2 51.3 C480.05 49.98 481.05 48.42 482.2 47.6 C483.35 46.78 484.82 46.28 486.1 46.4 C487.38 46.52 488.63 47.55 489.9 48.3 C491.17 49.05 492.28 50.38 493.7 50.9 C495.12 51.42 496.95 51.25 498.4 51.4 C499.85 51.55 501.08 51.82 502.4 51.8 C503.72 51.78 505.15 51.73 506.3 51.3 C507.45 50.87 508.28 50.2 509.3 49.2 C510.32 48.2 511.37 46.72 512.4 45.3 C513.43 43.88 514.48 42.03 515.5 40.7 C516.52 39.37 517.48 37.98 518.5 37.3 C519.52 36.62 520.45 36.35 521.6 36.6 C522.75 36.85 524.12 37.8 525.4 38.8 C526.68 39.8 528.15 41.63 529.3 42.6 C530.45 43.57 531.37 44.03 532.3 44.6 C533.23 45.17 534.03 45.53 534.9 46" fill="none" stroke="#D95319" stroke-width="1.9" stroke-linecap="round" stroke-linejoin="round"/>
<path d="M413.3 45 C414.17 46.63 414.95 48.32 415.9 49.9 C416.85 51.48 417.97 53.28 419 54.5 C420.03 55.72 420.82 56.62 422.1 57.2 C423.38 57.78 425.18 57.97 426.7 58 C428.22 58.03 429.65 57.58 431.2 57.4 C432.75 57.22 434.62 57.13 436 56.9 C437.38 56.67 438.42 56.52 439.5 56 C440.58 55.48 441.62 54.5 442.5 53.8 C443.38 53.1 444.03 52.47 444.8 51.8" fill="none" stroke="#D95319" stroke-width="1.7" stroke-linecap="round" stroke-linejoin="round"/>
<path d="M518.1 45 C517.23 46.63 516.45 48.32 515.5 49.9 C514.55 51.48 513.43 53.28 512.4 54.5 C511.37 55.72 510.58 56.62 509.3 57.2 C508.02 57.78 506.22 57.97 504.7 58 C503.18 58.03 501.75 57.58 500.2 57.4 C498.65 57.22 496.78 57.13 495.4 56.9 C494.02 56.67 492.98 56.52 491.9 56 C490.82 55.48 489.78 54.5 488.9 53.8 C488.02 53.1 487.37 52.47 486.6 51.8" fill="none" stroke="#D95319" stroke-width="1.7" stroke-linecap="round" stroke-linejoin="round"/>
<path d="M396.5 140 C397.37 140.47 398.17 140.83 399.1 141.4 C400.03 141.97 400.95 142.43 402.1 143.4 C403.25 144.37 404.72 146.2 406 147.2 C407.28 148.2 408.65 149.15 409.8 149.4 C410.95 149.65 411.88 149.38 412.9 148.7 C413.92 148.02 414.88 146.63 415.9 145.3 C416.92 143.97 417.97 142.12 419 140.7 C420.03 139.28 421.08 137.8 422.1 136.8 C423.12 135.8 423.95 135.13 425.1 134.7 C426.25 134.27 427.68 134.22 429 134.2 C430.32 134.18 431.55 134.45 433 134.6 C434.45 134.75 436.28 134.58 437.7 135.1 C439.12 135.62 440.23 136.95 441.5 137.7 C442.77 138.45 444.02 139.48 445.3 139.6 C446.58 139.72 448.05 139.22 449.2 138.4 C450.35 137.58 451.35 136.02 452.2 134.7 C453.05 133.38 453.58 132.12 454.3 130.5 C455.02 128.88 455.72 127 456.5 125 C457.28 123 458.22 120.58 459 118.5 C459.78 116.42 460.5 114.33 461.2 112.5 C461.9 110.67 462.6 108.95 463.2 107.5 C463.8 106.05 464.38 104.67 464.8 103.8 C465.22 102.93 465.4 102.3 465.7 102.3 C466 102.3 466.18 102.93 466.6 103.8 C467.02 104.67 467.6 106.05 468.2 107.5 C468.8 108.95 469.5 110.67 470.2 112.5 C470.9 114.33 471.62 116.42 472.4 118.5 C473.18 120.58 474.12 123 474.9 125 C475.68 127 476.38 128.88 477.1 130.5 C477.82 132.12 478.35 133.38 479.2 134.7 C480.05 136.02 481.05 137.58 482.2 138.4 C483.35 139.22 484.82 139.72 486.1 139.6 C487.38 139.48 488.63 138.45 489.9 137.7 C491.17 136.95 492.28 135.62 493.7 135.1 C495.12 134.58 496.95 134.75 498.4 134.6 C499.85 134.45 501.08 134.18 502.4 134.2 C503.72 134.22 505.15 134.27 506.3 134.7 C507.45 135.13 508.28 135.8 509.3 136.8 C510.32 137.8 511.37 139.28 512.4 140.7 C513.43 142.12 514.48 143.97 515.5 145.3 C516.52 146.63 517.48 148.02 518.5 148.7 C519.52 149.38 520.45 149.65 521.6 149.4 C522.75 149.15 524.12 148.2 525.4 147.2 C526.68 146.2 528.15 144.37 529.3 143.4 C530.45 142.43 531.37 141.97 532.3 141.4 C533.23 140.83 534.03 140.47 534.9 140 L534.3 128.8 C533.77 128.8 533.28 128.63 532.7 128.8 C532.12 128.97 531.63 129.23 530.8 129.8 C529.97 130.37 528.85 131.15 527.7 132.2 C526.55 133.25 525.17 134.85 523.9 136.1 C522.63 137.35 521.07 138.93 520.1 139.7 C519.13 140.47 518.87 141.25 518.1 140.7 C517.33 140.15 516.45 137.88 515.5 136.4 C514.55 134.92 513.43 133.02 512.4 131.8 C511.37 130.58 510.58 129.68 509.3 129.1 C508.02 128.52 506.22 128.35 504.7 128.3 C503.18 128.25 501.75 128.63 500.2 128.8 C498.65 128.97 496.78 129.07 495.4 129.3 C494.02 129.53 492.98 129.67 491.9 130.2 C490.82 130.73 489.82 131.78 488.9 132.5 C487.98 133.22 487.18 134.33 486.4 134.5 C485.62 134.67 484.87 134.25 484.2 133.5 C483.53 132.75 482.95 131.3 482.4 130 C481.85 128.7 481.55 127.53 480.9 125.7 C480.25 123.87 479.35 121.25 478.5 119 C477.65 116.75 476.7 114.45 475.8 112.2 C474.9 109.95 474 107.75 473.1 105.5 C472.2 103.25 471.25 100.82 470.4 98.7 C469.55 96.58 468.78 94.75 468 92.8 C467.22 90.85 466.47 87 465.7 87 C464.93 87 464.18 90.85 463.4 92.8 C462.62 94.75 461.85 96.58 461 98.7 C460.15 100.82 459.2 103.25 458.3 105.5 C457.4 107.75 456.5 109.95 455.6 112.2 C454.7 114.45 453.75 116.75 452.9 119 C452.05 121.25 451.15 123.87 450.5 125.7 C449.85 127.53 449.55 128.7 449 130 C448.45 131.3 447.87 132.75 447.2 133.5 C446.53 134.25 445.78 134.67 445 134.5 C444.22 134.33 443.42 133.22 442.5 132.5 C441.58 131.78 440.58 130.73 439.5 130.2 C438.42 129.67 437.38 129.53 436 129.3 C434.62 129.07 432.75 128.97 431.2 128.8 C429.65 128.63 428.22 128.25 426.7 128.3 C425.18 128.35 423.38 128.52 422.1 129.1 C420.82 129.68 420.03 130.58 419 131.8 C417.97 133.02 416.85 134.92 415.9 136.4 C414.95 137.88 414.07 140.15 413.3 140.7 C412.53 141.25 412.27 140.47 411.3 139.7 C410.33 138.93 408.77 137.35 407.5 136.1 C406.23 134.85 404.85 133.25 403.7 132.2 C402.55 131.15 401.43 130.37 400.6 129.8 C399.77 129.23 399.28 128.97 398.7 128.8 C398.12 128.63 397.63 128.8 397.1 128.8 Z" fill="#808080"/>
<path d="M396.5 140 C397.37 140.47 398.17 140.83 399.1 141.4 C400.03 141.97 400.95 142.43 402.1 143.4 C403.25 144.37 404.72 146.2 406 147.2 C407.28 148.2 408.65 149.15 409.8 149.4 C410.95 149.65 411.88 149.38 412.9 148.7 C413.92 148.02 414.88 146.63 415.9 145.3 C416.92 143.97 417.97 142.12 419 140.7 C420.03 139.28 421.08 137.8 422.1 136.8 C423.12 135.8 423.95 135.13 425.1 134.7 C426.25 134.27 427.68 134.22 429 134.2 C430.32 134.18 431.55 134.45 433 134.6 C434.45 134.75 436.28 134.58 437.7 135.1 C439.12 135.62 440.23 136.95 441.5 137.7 C442.77 138.45 444.02 139.48 445.3 139.6 C446.58 139.72 448.05 139.22 449.2 138.4 C450.35 137.58 451.35 136.02 452.2 134.7 C453.05 133.38 453.58 132.12 454.3 130.5 C455.02 128.88 455.72 127 456.5 125 C457.28 123 458.22 120.58 459 118.5 C459.78 116.42 460.5 114.33 461.2 112.5 C461.9 110.67 462.6 108.95 463.2 107.5 C463.8 106.05 464.38 104.67 464.8 103.8 C465.22 102.93 465.4 102.3 465.7 102.3 C466 102.3 466.18 102.93 466.6 103.8 C467.02 104.67 467.6 106.05 468.2 107.5 C468.8 108.95 469.5 110.67 470.2 112.5 C470.9 114.33 471.62 116.42 472.4 118.5 C473.18 120.58 474.12 123 474.9 125 C475.68 127 476.38 128.88 477.1 130.5 C477.82 132.12 478.35 133.38 479.2 134.7 C480.05 136.02 481.05 137.58 482.2 138.4 C483.35 139.22 484.82 139.72 486.1 139.6 C487.38 139.48 488.63 138.45 489.9 137.7 C491.17 136.95 492.28 135.62 493.7 135.1 C495.12 134.58 496.95 134.75 498.4 134.6 C499.85 134.45 501.08 134.18 502.4 134.2 C503.72 134.22 505.15 134.27 506.3 134.7 C507.45 135.13 508.28 135.8 509.3 136.8 C510.32 137.8 511.37 139.28 512.4 140.7 C513.43 142.12 514.48 143.97 515.5 145.3 C516.52 146.63 517.48 148.02 518.5 148.7 C519.52 149.38 520.45 149.65 521.6 149.4 C522.75 149.15 524.12 148.2 525.4 147.2 C526.68 146.2 528.15 144.37 529.3 143.4 C530.45 142.43 531.37 141.97 532.3 141.4 C533.23 140.83 534.03 140.47 534.9 140" fill="none" stroke="#D95319" stroke-width="1.9" stroke-linecap="round" stroke-linejoin="round"/>
<path d="M413.3 141 C414.17 139.37 414.95 137.68 415.9 136.1 C416.85 134.52 417.97 132.72 419 131.5 C420.03 130.28 420.82 129.38 422.1 128.8 C423.38 128.22 425.18 128.03 426.7 128 C428.22 127.97 429.65 128.42 431.2 128.6 C432.75 128.78 434.62 128.87 436 129.1 C437.38 129.33 438.42 129.48 439.5 130 C440.58 130.52 441.62 131.5 442.5 132.2 C443.38 132.9 444.03 133.53 444.8 134.2" fill="none" stroke="#D95319" stroke-width="1.7" stroke-linecap="round" stroke-linejoin="round"/>
<path d="M518.1 141 C517.23 139.37 516.45 137.68 515.5 136.1 C514.55 134.52 513.43 132.72 512.4 131.5 C511.37 130.28 510.58 129.38 509.3 128.8 C508.02 128.22 506.22 128.03 504.7 128 C503.18 127.97 501.75 128.42 500.2 128.6 C498.65 128.78 496.78 128.87 495.4 129.1 C494.02 129.33 492.98 129.48 491.9 130 C490.82 130.52 489.78 131.5 488.9 132.2 C488.02 132.9 487.37 133.53 486.6 134.2" fill="none" stroke="#D95319" stroke-width="1.7" stroke-linecap="round" stroke-linejoin="round"/>
<path d="M58.2 279.4 C60.8 279.7 63.12 279.65 66 280.3 C68.88 280.95 73.17 282.43 75.5 283.3 C77.83 284.17 78.12 284.45 80 285.5 C81.88 286.55 84.55 288.12 86.8 289.6 C89.05 291.08 91.7 293.13 93.5 294.4 C95.3 295.67 96.23 296.27 97.6 297.2" fill="none" stroke="#D95319" stroke-width="2.6" stroke-linecap="butt" stroke-linejoin="round"/>
<path d="M167.6 279.4 C165 279.7 162.68 279.65 159.8 280.3 C156.92 280.95 152.63 282.43 150.3 283.3 C147.97 284.17 147.68 284.45 145.8 285.5 C143.92 286.55 141.25 288.12 139 289.6 C136.75 291.08 134.1 293.13 132.3 294.4 C130.5 295.67 129.57 296.27 128.2 297.2" fill="none" stroke="#D95319" stroke-width="2.6" stroke-linecap="butt" stroke-linejoin="round"/>
<path d="M44.3 255 C44.83 255 44.38 254.88 45.9 255 C47.42 255.12 50.57 255.18 53.4 255.7 C56.23 256.22 59.75 257.13 62.9 258.1 C66.05 259.07 69.45 260.42 72.3 261.5 C75.15 262.58 77.58 263.58 80 264.6 C82.42 265.62 84.55 266.63 86.8 267.6 C89.05 268.57 91.25 269.6 93.5 270.4 C95.75 271.2 98.05 271.92 100.3 272.4 C102.55 272.88 104.9 273.1 107 273.3 C109.1 273.5 110.93 273.6 112.9 273.6 C114.87 273.6 116.7 273.5 118.8 273.3 C120.9 273.1 123.25 272.88 125.5 272.4 C127.75 271.92 130.05 271.2 132.3 270.4 C134.55 269.6 136.75 268.57 139 267.6 C141.25 266.63 143.38 265.62 145.8 264.6 C148.22 263.58 150.65 262.58 153.5 261.5 C156.35 260.42 159.75 259.07 162.9 258.1 C166.05 257.13 169.57 256.22 172.4 255.7 C175.23 255.18 178.38 255.12 179.9 255 C181.42 254.88 180.97 255 181.5 255 L181.5 277.8 C180.97 277.8 181.95 277.68 179.9 277.8 C177.85 277.92 172.55 278.22 169.2 278.5 C165.85 278.78 162.95 278.82 159.8 279.5 C156.65 280.18 152.63 281.68 150.3 282.6 C147.97 283.52 147.68 283.9 145.8 285 C143.92 286.1 141.25 287.7 139 289.2 C136.75 290.7 134.55 292.47 132.3 294 C130.05 295.53 127.75 297.18 125.5 298.4 C123.25 299.62 120.9 300.7 118.8 301.3 C116.7 301.9 114.87 302 112.9 302 C110.93 302 109.1 301.9 107 301.3 C104.9 300.7 102.55 299.62 100.3 298.4 C98.05 297.18 95.75 295.53 93.5 294 C91.25 292.47 89.05 290.7 86.8 289.2 C84.55 287.7 81.88 286.1 80 285 C78.12 283.9 77.83 283.52 75.5 282.6 C73.17 281.68 69.15 280.18 66 279.5 C62.85 278.82 59.95 278.78 56.6 278.5 C53.25 278.22 47.95 277.92 45.9 277.8 C43.85 277.68 44.83 277.8 44.3 277.8 Z" fill="#808080"/>
<path d="M58.2 353.2 C60.8 352.9 63.12 352.95 66 352.3 C68.88 351.65 73.17 350.17 75.5 349.3 C77.83 348.43 78.12 348.15 80 347.1 C81.88 346.05 84.55 344.48 86.8 343 C89.05 341.52 91.7 339.47 93.5 338.2 C95.3 336.93 96.23 336.33 97.6 335.4" fill="none" stroke="#D95319" stroke-width="2.6" stroke-linecap="butt" stroke-linejoin="round"/>
<path d="M167.6 353.2 C165 352.9 162.68 352.95 159.8 352.3 C156.92 351.65 152.63 350.17 150.3 349.3 C147.97 348.43 147.68 348.15 145.8 347.1 C143.92 346.05 141.25 344.48 139 343 C136.75 341.52 134.1 339.47 132.3 338.2 C130.5 336.93 129.57 336.33 128.2 335.4" fill="none" stroke="#D95319" stroke-width="2.6" stroke-linecap="butt" stroke-linejoin="round"/>
<path d="M44.3 377.6 C44.83 377.6 44.38 377.72 45.9 377.6 C47.42 377.48 50.57 377.42 53.4 376.9 C56.23 376.38 59.75 375.47 62.9 374.5 C66.05 373.53 69.45 372.18 72.3 371.1 C75.15 370.02 77.58 369.02 80 368 C82.42 366.98 84.55 365.97 86.8 365 C89.05 364.03 91.25 363 93.5 362.2 C95.75 361.4 98.05 360.68 100.3 360.2 C102.55 359.72 104.9 359.5 107 359.3 C109.1 359.1 110.93 359 112.9 359 C114.87 359 116.7 359.1 118.8 359.3 C120.9 359.5 123.25 359.72 125.5 360.2 C127.75 360.68 130.05 361.4 132.3 362.2 C134.55 363 136.75 364.03 139 365 C141.25 365.97 143.38 366.98 145.8 368 C148.22 369.02 150.65 370.02 153.5 371.1 C156.35 372.18 159.75 373.53 162.9 374.5 C166.05 375.47 169.57 376.38 172.4 376.9 C175.23 377.42 178.38 377.48 179.9 377.6 C181.42 377.72 180.97 377.6 181.5 377.6 L181.5 354.8 C180.97 354.8 181.95 354.92 179.9 354.8 C177.85 354.68 172.55 354.38 169.2 354.1 C165.85 353.82 162.95 353.78 159.8 353.1 C156.65 352.42 152.63 350.92 150.3 350 C147.97 349.08 147.68 348.7 145.8 347.6 C143.92 346.5 141.25 344.9 139 343.4 C136.75 341.9 134.55 340.13 132.3 338.6 C130.05 337.07 127.75 335.42 125.5 334.2 C123.25 332.98 120.9 331.9 118.8 331.3 C116.7 330.7 114.87 330.6 112.9 330.6 C110.93 330.6 109.1 330.7 107 331.3 C104.9 331.9 102.55 332.98 100.3 334.2 C98.05 335.42 95.75 337.07 93.5 338.6 C91.25 340.13 89.05 341.9 86.8 343.4 C84.55 344.9 81.88 346.5 80 347.6 C78.12 348.7 77.83 349.08 75.5 350 C73.17 350.92 69.15 352.42 66 353.1 C62.85 353.78 59.95 353.82 56.6 354.1 C53.25 354.38 47.95 354.68 45.9 354.8 C43.85 354.92 44.83 354.8 44.3 354.8 Z" fill="#808080"/>
<path d="M220.7 237.8 C221.23 237.8 219.75 237.73 222.3 237.8 C224.85 237.87 233.08 238.02 236 238.2 C238.92 238.38 238.07 238.52 239.8 238.9 C241.53 239.28 244.4 239.87 246.4 240.5 C248.4 241.13 249.98 242.05 251.8 242.7 C253.62 243.35 255.48 243.82 257.3 244.4 C259.12 244.98 260.88 245.6 262.7 246.2 C264.52 246.8 266.38 247.48 268.2 248 C270.02 248.52 271.78 248.95 273.6 249.3 C275.42 249.65 277.28 249.91 279.1 250.1 C280.92 250.29 282.8 250.38 284.5 250.45 C286.2 250.52 287.7 250.55 289.3 250.55 C290.9 250.55 292.4 250.52 294.1 250.45 C295.8 250.38 297.68 250.29 299.5 250.1 C301.32 249.91 303.18 249.65 305 249.3 C306.82 248.95 308.58 248.52 310.4 248 C312.22 247.48 314.08 246.8 315.9 246.2 C317.72 245.6 319.48 244.98 321.3 244.4 C323.12 243.82 324.98 243.35 326.8 242.7 C328.62 242.05 330.2 241.13 332.2 240.5 C334.2 239.87 337.07 239.28 338.8 238.9 C340.53 238.52 339.68 238.38 342.6 238.2 C345.52 238.02 353.75 237.87 356.3 237.8 C358.85 237.73 357.37 237.8 357.9 237.8 L357.9 279.3 C357.37 279.3 359.52 279.28 356.3 279.3 C353.08 279.32 342.25 279.28 338.6 279.4 C334.95 279.52 336.6 279.68 334.4 280 C332.2 280.32 328.43 280.72 325.4 281.3 C322.37 281.88 319.25 282.67 316.2 283.5 C313.15 284.33 310.13 285.45 307.1 286.3 C304.07 287.15 300.33 288.02 298 288.6 C295.67 289.18 294.55 289.53 293.1 289.8 C291.65 290.07 290.57 290.2 289.3 290.2 C288.03 290.2 286.95 290.07 285.5 289.8 C284.05 289.53 282.93 289.18 280.6 288.6 C278.27 288.02 274.53 287.15 271.5 286.3 C268.47 285.45 265.45 284.33 262.4 283.5 C259.35 282.67 256.23 281.88 253.2 281.3 C250.17 280.72 246.4 280.32 244.2 280 C242 279.68 243.65 279.52 240 279.4 C236.35 279.28 225.52 279.32 222.3 279.3 C219.08 279.28 221.23 279.3 220.7 279.3 Z" fill="#808080"/>
<path d="M222.3 281.7 C224.87 281.77 227.08 281.78 230 281.9 C232.92 282.02 237.42 282.08 239.8 282.4 C242.18 282.72 242.78 283.28 244.3 283.8 C245.82 284.32 247.38 284.9 248.9 285.5 C250.42 286.1 251.88 286.7 253.4 287.4 C254.92 288.1 256.48 288.9 258 289.7 C259.52 290.5 260.98 291.33 262.5 292.2 C264.02 293.07 265.58 294.05 267.1 294.9 C268.62 295.75 270.08 296.5 271.6 297.3 C273.12 298.1 274.68 299.03 276.2 299.7 C277.72 300.37 279.18 300.83 280.7 301.3 C282.22 301.77 283.87 302.23 285.3 302.5 C286.73 302.77 287.97 302.9 289.3 302.9 C290.63 302.9 291.87 302.77 293.3 302.5 C294.73 302.23 296.38 301.77 297.9 301.3 C299.42 300.83 300.88 300.37 302.4 299.7 C303.92 299.03 305.48 298.1 307 297.3 C308.52 296.5 309.98 295.75 311.5 294.9 C313.02 294.05 314.58 293.07 316.1 292.2 C317.62 291.33 319.08 290.5 320.6 289.7 C322.12 288.9 323.68 288.1 325.2 287.4 C326.72 286.7 328.18 286.1 329.7 285.5 C331.22 284.9 332.78 284.32 334.3 283.8 C335.82 283.28 336.42 282.72 338.8 282.4 C341.18 282.08 345.68 282.02 348.6 281.9 C351.52 281.78 353.73 281.77 356.3 281.7" fill="none" stroke="#D95319" stroke-width="5.4" stroke-linecap="round" stroke-linejoin="round"/>
<path d="M220.7 394.8 C221.23 394.8 219.75 394.88 222.3 394.8 C224.85 394.72 233.08 394.53 236 394.3 C238.92 394.07 238.07 393.9 239.8 393.4 C241.53 392.9 244.4 391.93 246.4 391.3 C248.4 390.67 249.98 390.18 251.8 389.6 C253.62 389.02 255.48 388.37 257.3 387.8 C259.12 387.23 260.88 386.78 262.7 386.2 C264.52 385.62 266.38 384.85 268.2 384.3 C270.02 383.75 271.78 383.27 273.6 382.9 C275.42 382.53 277.28 382.3 279.1 382.1 C280.92 381.9 282.8 381.78 284.5 381.7 C286.2 381.62 287.7 381.6 289.3 381.6 C290.9 381.6 292.4 381.62 294.1 381.7 C295.8 381.78 297.68 381.9 299.5 382.1 C301.32 382.3 303.18 382.53 305 382.9 C306.82 383.27 308.58 383.75 310.4 384.3 C312.22 384.85 314.08 385.62 315.9 386.2 C317.72 386.78 319.48 387.23 321.3 387.8 C323.12 388.37 324.98 389.02 326.8 389.6 C328.62 390.18 330.2 390.67 332.2 391.3 C334.2 391.93 337.07 392.9 338.8 393.4 C340.53 393.9 339.68 394.07 342.6 394.3 C345.52 394.53 353.75 394.72 356.3 394.8 C358.85 394.88 357.37 394.8 357.9 394.8 L357.9 354.1 C357.37 354.1 359.52 354.12 356.3 354.1 C353.08 354.08 342.25 354.12 338.6 354 C334.95 353.88 336.6 353.72 334.4 353.4 C332.2 353.08 328.43 352.68 325.4 352.1 C322.37 351.52 319.25 350.73 316.2 349.9 C313.15 349.07 310.13 347.95 307.1 347.1 C304.07 346.25 300.33 345.38 298 344.8 C295.67 344.22 294.55 343.87 293.1 343.6 C291.65 343.33 290.57 343.2 289.3 343.2 C288.03 343.2 286.95 343.33 285.5 343.6 C284.05 343.87 282.93 344.22 280.6 344.8 C278.27 345.38 274.53 346.25 271.5 347.1 C268.47 347.95 265.45 349.07 262.4 349.9 C259.35 350.73 256.23 351.52 253.2 352.1 C250.17 352.68 246.4 353.08 244.2 353.4 C242 353.72 243.65 353.88 240 354 C236.35 354.12 225.52 354.08 222.3 354.1 C219.08 354.12 221.23 354.1 220.7 354.1 Z" fill="#808080"/>
<path d="M222.3 351.7 C224.87 351.63 227.08 351.62 230 351.5 C232.92 351.38 237.42 351.32 239.8 351 C242.18 350.68 242.78 350.12 244.3 349.6 C245.82 349.08 247.38 348.5 248.9 347.9 C250.42 347.3 251.88 346.7 253.4 346 C254.92 345.3 256.48 344.5 258 343.7 C259.52 342.9 260.98 342.07 262.5 341.2 C264.02 340.33 265.58 339.35 267.1 338.5 C268.62 337.65 270.08 336.9 271.6 336.1 C273.12 335.3 274.68 334.37 276.2 333.7 C277.72 333.03 279.18 332.57 280.7 332.1 C282.22 331.63 283.87 331.17 285.3 330.9 C286.73 330.63 287.97 330.5 289.3 330.5 C290.63 330.5 291.87 330.63 293.3 330.9 C294.73 331.17 296.38 331.63 297.9 332.1 C299.42 332.57 300.88 333.03 302.4 333.7 C303.92 334.37 305.48 335.3 307 336.1 C308.52 336.9 309.98 337.65 311.5 338.5 C313.02 339.35 314.58 340.33 316.1 341.2 C317.62 342.07 319.08 342.9 320.6 343.7 C322.12 344.5 323.68 345.3 325.2 346 C326.72 346.7 328.18 347.3 329.7 347.9 C331.22 348.5 332.78 349.08 334.3 349.6 C335.82 350.12 336.42 350.68 338.8 351 C341.18 351.32 345.68 351.38 348.6 351.5 C351.52 351.62 353.73 351.63 356.3 351.7" fill="none" stroke="#D95319" stroke-width="5.4" stroke-linecap="round" stroke-linejoin="round"/>
<path d="M397.1 265.1 C397.63 265.1 396.7 265.17 398.7 265.1 C400.7 265.03 405.18 264.93 409.1 264.7 C413.02 264.47 417.83 264.03 422.2 263.7 C426.57 263.37 430.93 263.02 435.3 262.7 C439.67 262.38 443.33 262.05 448.4 261.8 C453.47 261.55 459.93 261.2 465.7 261.2 C471.47 261.2 477.93 261.55 483 261.8 C488.07 262.05 491.73 262.38 496.1 262.7 C500.47 263.02 504.83 263.37 509.2 263.7 C513.57 264.03 518.38 264.47 522.3 264.7 C526.22 264.93 530.7 265.03 532.7 265.1 C534.7 265.17 533.77 265.1 534.3 265.1 L534.3 367.5 C533.77 367.5 534.7 367.43 532.7 367.5 C530.7 367.57 526.22 367.67 522.3 367.9 C518.38 368.13 513.57 368.57 509.2 368.9 C504.83 369.23 500.47 369.58 496.1 369.9 C491.73 370.22 488.07 370.55 483 370.8 C477.93 371.05 471.47 371.4 465.7 371.4 C459.93 371.4 453.47 371.05 448.4 370.8 C443.33 370.55 439.67 370.22 435.3 369.9 C430.93 369.58 426.57 369.23 422.2 368.9 C417.83 368.57 413.02 368.13 409.1 367.9 C405.18 367.67 400.7 367.57 398.7 367.5 C396.7 367.43 397.63 367.5 397.1 367.5 Z" fill="#808080"/>
<path d="M420.2 316.3 C421.8 315.97 423.3 315.63 425 315.3 C426.7 314.97 427.82 314.75 430.4 314.3 C432.98 313.85 437.23 313.08 440.5 312.6 C443.77 312.12 447.08 311.68 450 311.4 C452.92 311.12 455.38 311 458 310.9 C460.62 310.8 463.13 310.8 465.7 310.8 C468.27 310.8 470.78 310.8 473.4 310.9 C476.02 311 478.48 311.12 481.4 311.4 C484.32 311.68 487.63 312.12 490.9 312.6 C494.17 313.08 498.42 313.85 501 314.3 C503.58 314.75 504.7 314.97 506.4 315.3 C508.1 315.63 509.6 315.97 511.2 316.3 L511.2 316.3 C509.6 316.63 508.1 316.97 506.4 317.3 C504.7 317.63 503.58 317.85 501 318.3 C498.42 318.75 494.17 319.52 490.9 320 C487.63 320.48 484.32 320.92 481.4 321.2 C478.48 321.48 476.02 321.6 473.4 321.7 C470.78 321.8 468.27 321.8 465.7 321.8 C463.13 321.8 460.62 321.8 458 321.7 C455.38 321.6 452.92 321.48 450 321.2 C447.08 320.92 443.77 320.48 440.5 320 C437.23 319.52 432.98 318.75 430.4 318.3 C427.82 317.85 426.7 317.63 425 317.3 C423.3 316.97 421.8 316.63 420.2 316.3 Z" fill="#ffffff"/>
<path d="M398.7 240.4 C405.8 240.07 413.12 239.65 420 239.4 C426.88 239.15 432.38 239 440 238.9 C447.62 238.8 457.13 238.8 465.7 238.8 C474.27 238.8 483.78 238.8 491.4 238.9 C499.02 239 504.52 239.15 511.4 239.4 C518.28 239.65 525.6 240.07 532.7 240.4" fill="none" stroke="#D95319" stroke-width="5.5" stroke-linecap="round" stroke-linejoin="round"/>
<path d="M398.7 254.1 C404.03 253.53 409.73 253.2 414.7 252.4 C419.67 251.6 423.9 250.38 428.5 249.3 C433.1 248.22 438.15 246.8 442.3 245.9 C446.45 245 449.5 244.25 453.4 243.9 C457.3 243.55 461.6 243.8 465.7 243.8 C469.8 243.8 474.1 243.55 478 243.9 C481.9 244.25 484.95 245 489.1 245.9 C493.25 246.8 498.3 248.22 502.9 249.3 C507.5 250.38 511.73 251.6 516.7 252.4 C521.67 253.2 527.37 253.53 532.7 254.1" fill="none" stroke="#D95319" stroke-width="5.5" stroke-linecap="round" stroke-linejoin="round"/>
<path d="M398.7 392.2 C406.33 392.33 413.18 392.48 421.6 392.6 C430.02 392.72 441.85 392.85 449.2 392.9 C456.55 392.95 460.2 392.9 465.7 392.9 C471.2 392.9 474.85 392.95 482.2 392.9 C489.55 392.85 501.38 392.72 509.8 392.6 C518.22 392.48 525.07 392.33 532.7 392.2" fill="none" stroke="#D95319" stroke-width="5.5" stroke-linecap="round" stroke-linejoin="round"/>
<path d="M398.7 378.4 C401.73 378.43 403.98 378.28 407.8 378.5 C411.62 378.72 417 378.97 421.6 379.7 C426.2 380.43 430.8 381.85 435.4 382.9 C440 383.95 445.73 385.27 449.2 386 C452.67 386.73 453.45 386.97 456.2 387.3 C458.95 387.63 462.53 388 465.7 388 C468.87 388 472.45 387.63 475.2 387.3 C477.95 386.97 478.73 386.73 482.2 386 C485.67 385.27 491.4 383.95 496 382.9 C500.6 381.85 505.2 380.43 509.8 379.7 C514.4 378.97 519.78 378.72 523.6 378.5 C527.42 378.28 529.67 378.43 532.7 378.4" fill="none" stroke="#D95319" stroke-width="5.5" stroke-linecap="round" stroke-linejoin="round"/>
<path d="M465.7 310.9 V321.7 M421 316.3 H511" stroke="#e3e3e3" stroke-width="1"/>
<text x="40.6" y="21.9" text-anchor="end" class="tk">1</text>
<text x="40.6" y="60.65" text-anchor="end" class="tk">0.5</text>
<text x="40.6" y="99.4" text-anchor="end" class="tk">0</text>
<text x="40.6" y="138.15" text-anchor="end" class="tk">-0.5</text>
<text x="40.6" y="176.9" text-anchor="end" class="tk">-1</text>
<text x="45.9" y="192.2" text-anchor="middle" class="tk">-1</text>
<text x="112.9" y="192.2" text-anchor="middle" class="tk">0</text>
<text x="179.9" y="192.2" text-anchor="middle" class="tk">1</text>
<text x="217" y="21.9" text-anchor="end" class="tk">1</text>
<text x="217" y="60.65" text-anchor="end" class="tk">0.5</text>
<text x="217" y="99.4" text-anchor="end" class="tk">0</text>
<text x="217" y="138.15" text-anchor="end" class="tk">-0.5</text>
<text x="217" y="176.9" text-anchor="end" class="tk">-1</text>
<text x="222.3" y="192.2" text-anchor="middle" class="tk">-1</text>
<text x="289.3" y="192.2" text-anchor="middle" class="tk">0</text>
<text x="356.3" y="192.2" text-anchor="middle" class="tk">1</text>
<text x="393.4" y="21.9" text-anchor="end" class="tk">1</text>
<text x="393.4" y="60.65" text-anchor="end" class="tk">0.5</text>
<text x="393.4" y="99.4" text-anchor="end" class="tk">0</text>
<text x="393.4" y="138.15" text-anchor="end" class="tk">-0.5</text>
<text x="393.4" y="176.9" text-anchor="end" class="tk">-1</text>
<text x="398.7" y="192.2" text-anchor="middle" class="tk">-1</text>
<text x="465.7" y="192.2" text-anchor="middle" class="tk">0</text>
<text x="532.7" y="192.2" text-anchor="middle" class="tk">1</text>
<text x="40.6" y="245.2" text-anchor="end" class="tk">1</text>
<text x="40.6" y="283.95" text-anchor="end" class="tk">0.5</text>
<text x="40.6" y="322.7" text-anchor="end" class="tk">0</text>
<text x="40.6" y="361.45" text-anchor="end" class="tk">-0.5</text>
<text x="40.6" y="400.2" text-anchor="end" class="tk">-1</text>
<text x="45.9" y="415.5" text-anchor="middle" class="tk">-1</text>
<text x="112.9" y="415.5" text-anchor="middle" class="tk">0</text>
<text x="179.9" y="415.5" text-anchor="middle" class="tk">1</text>
<text x="217" y="245.2" text-anchor="end" class="tk">1</text>
<text x="217" y="283.95" text-anchor="end" class="tk">0.5</text>
<text x="217" y="322.7" text-anchor="end" class="tk">0</text>
<text x="217" y="361.45" text-anchor="end" class="tk">-0.5</text>
<text x="217" y="400.2" text-anchor="end" class="tk">-1</text>
<text x="222.3" y="415.5" text-anchor="middle" class="tk">-1</text>
<text x="289.3" y="415.5" text-anchor="middle" class="tk">0</text>
<text x="356.3" y="415.5" text-anchor="middle" class="tk">1</text>
<text x="393.4" y="245.2" text-anchor="end" class="tk">1</text>
<text x="393.4" y="283.95" text-anchor="end" class="tk">0.5</text>
<text x="393.4" y="322.7" text-anchor="end" class="tk">0</text>
<text x="393.4" y="361.45" text-anchor="end" class="tk">-0.5</text>
<text x="393.4" y="400.2" text-anchor="end" class="tk">-1</text>
<text x="398.7" y="415.5" text-anchor="middle" class="tk">-1</text>
<text x="465.7" y="415.5" text-anchor="middle" class="tk">0</text>
<text x="532.7" y="415.5" text-anchor="middle" class="tk">1</text>
<text x="48.3" y="31" class="pl" fill="#000">(a)</text>
<text x="224.1" y="31.3" class="pl" fill="#000">(b)</text>
<text x="400.9" y="30.6" class="pl" fill="#000">(c)</text>
<text x="46.9" y="252.3" class="pl" fill="#000">(d)</text>
<text x="221.8" y="253.3" class="pl" fill="#fff">(e)</text>
<text x="401.5" y="254.4" class="pl" fill="#000">(f)</text>
<text x="96.7" y="210.5" class="mi" font-size="16">k</text>
<text x="105.3" y="212.2" class="mi" font-size="12.5">x</text>
<text x="112.2" y="214.1" class="mr" font-size="23">/</text>
<text x="119.7" y="210.5" class="mi" font-size="14.5">&#960;</text>
<text x="96.7" y="433.4" class="mi" font-size="16">k</text>
<text x="104.6" y="435.6" class="mi" font-size="12">y</text>
<text x="112.2" y="437" class="mr" font-size="23">/</text>
<text x="119.7" y="433.4" class="mi" font-size="14.5">&#960;</text>
<text x="273.1" y="210.5" class="mi" font-size="16">k</text>
<text x="281.7" y="212.2" class="mi" font-size="12.5">x</text>
<text x="288.6" y="214.1" class="mr" font-size="23">/</text>
<text x="296.1" y="210.5" class="mi" font-size="14.5">&#960;</text>
<text x="273.1" y="433.4" class="mi" font-size="16">k</text>
<text x="281" y="435.6" class="mi" font-size="12">y</text>
<text x="288.6" y="437" class="mr" font-size="23">/</text>
<text x="296.1" y="433.4" class="mi" font-size="14.5">&#960;</text>
<text x="449.5" y="210.5" class="mi" font-size="16">k</text>
<text x="458.1" y="212.2" class="mi" font-size="12.5">x</text>
<text x="465" y="214.1" class="mr" font-size="23">/</text>
<text x="472.5" y="210.5" class="mi" font-size="14.5">&#960;</text>
<text x="449.5" y="433.4" class="mi" font-size="16">k</text>
<text x="457.4" y="435.6" class="mi" font-size="12">y</text>
<text x="465" y="437" class="mr" font-size="23">/</text>
<text x="472.5" y="433.4" class="mi" font-size="14.5">&#960;</text>
<g transform="translate(18.5 107.3) rotate(-90)">
<text x="0" y="0" class="mi" font-size="16.5">E</text>
<text x="12.6" y="3.5" class="mr" font-size="23">/</text>
<text x="21.1" y="0.2" class="mi" font-size="15">&#960;</text>
</g>
<g transform="translate(18.5 330.5) rotate(-90)">
<text x="0" y="0" class="mi" font-size="16.5">E</text>
<text x="12.6" y="3.5" class="mr" font-size="23">/</text>
<text x="21.1" y="0.2" class="mi" font-size="15">&#960;</text>
</g>
</svg>
</body></html>
